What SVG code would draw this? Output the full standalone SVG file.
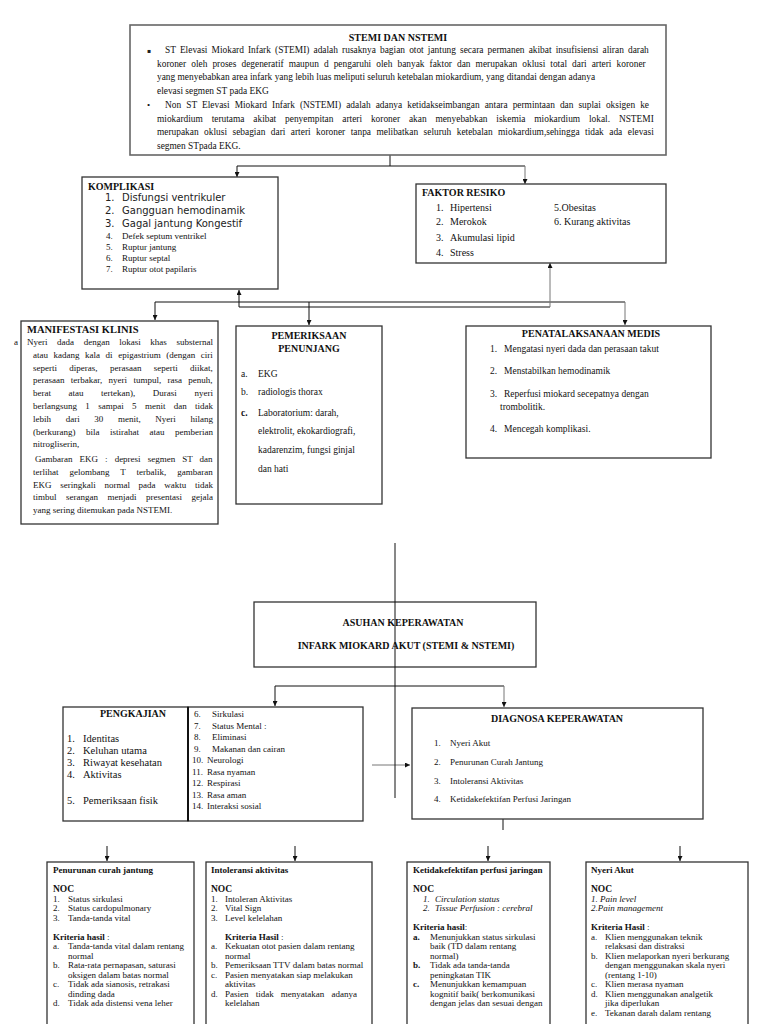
<svg xmlns="http://www.w3.org/2000/svg" width="768" height="1024" viewBox="0 0 768 1024">
<defs>
<marker id="ah" viewBox="0 0 6 6" refX="6" refY="3" markerWidth="5" markerHeight="5" orient="auto"><path d="M0,0 L6,3 L0,6 z" fill="#111"/></marker>
<style>
.box{fill:#fff;stroke:#333;stroke-width:1.3}
.t{font-family:"Liberation Serif","Times New Roman",serif;fill:#111}
.b{font-weight:bold}
.i{font-style:italic}
.s{font-family:"DejaVu Sans",Verdana,sans-serif;fill:#222}
.ln{stroke:#111;stroke-width:1;fill:none}
.lg{stroke:#777;stroke-width:1;fill:none}
.f9{font-size:9px}
.f94{font-size:9.4px}
.f8{font-size:8px}
.f85{font-size:8.5px}
.f10{font-size:10px}
.f105{font-size:10.5px}
.f95{font-size:9.5px}
</style>
</defs>
<rect width="768" height="1024" fill="#fff"/>

<g id="connectors">
<path class="ln" d="M390,155 V166 M237,166 H525"/>
<path class="ln" d="M237,166 V177" marker-end="url(#ah)"/>
<path class="lg" d="M525,166 V184" marker-end="url(#ah)"/>
<path class="ln" d="M155,302 H625"/>
<path class="ln" d="M155,302 V320" marker-end="url(#ah)"/>
<path class="ln" d="M309,302 V325" marker-end="url(#ah)"/>
<path class="lg" d="M625,302 V325" marker-end="url(#ah)"/>
<path class="ln" d="M239,307 H550"/>
<path class="ln" d="M239,307 V290" marker-end="url(#ah)"/>
<path class="lg" d="M550,307 V263" marker-end="url(#ah)"/>
<path class="ln" d="M275,686 H504"/>
<path class="ln" d="M275,686 V706" marker-end="url(#ah)"/>
<path class="lg" d="M504,686 V707" marker-end="url(#ah)"/>
<path class="lg" d="M372,765 H410" marker-end="url(#ah)"/>
<path class="ln" d="M503,819 V830"/>
<path class="ln" d="M107,846 V861" marker-end="url(#ah)"/>
<path class="ln" d="M295,846 V861" marker-end="url(#ah)"/>
<path class="ln" d="M488,846 V861" marker-end="url(#ah)"/>
<path class="ln" d="M680,846 V861" marker-end="url(#ah)"/>
</g>

<g id="stemi">
<rect class="box" x="130" y="25" width="536" height="130" style="stroke:#666;stroke-width:1.6"/>
<text class="t b f10" x="398" y="41" text-anchor="middle">STEMI DAN NSTEMI</text>
<text class="s" x="147" y="53" style="font-size:6px">▪</text>
<text class="t f94" x="165" y="53" word-spacing="1.77">ST Elevasi Miokard Infark (STEMI) adalah rusaknya bagian otot jantung secara permanen akibat insufisiensi aliran darah</text>
<text class="t f94" x="157" y="66.5" word-spacing="2.72">koroner oleh proses degeneratif maupun d pengaruhi oleh banyak faktor dan merupakan oklusi total dari arteri koroner</text>
<text class="t f94" x="157" y="80">yang menyebabkan area infark yang lebih luas meliputi seluruh ketebalan miokardium, yang ditandai dengan adanya</text>
<text class="t f94" x="157" y="93.5">elevasi segmen ST pada EKG</text>
<text class="t f9" x="147" y="108">•</text>
<text class="t f94" x="165" y="108" word-spacing="2.71">Non ST Elevasi Miokard Infark (NSTEMI) adalah adanya ketidakseimbangan antara permintaan dan suplai oksigen ke</text>
<text class="t f94" x="157" y="121.5" word-spacing="6.49">miokardium terutama akibat penyempitan arteri koroner akan menyebabkan iskemia miokardium lokal. NSTEMI</text>
<text class="t f94" x="157" y="135" word-spacing="3.13">merupakan oklusi sebagian dari arteri koroner tanpa melibatkan seluruh ketebalan miokardium,sehingga tidak ada elevasi</text>
<text class="t f94" x="157" y="149">segmen STpada EKG.</text>
</g>

<g id="komplikasi">
<rect class="box" x="82" y="177" width="196" height="112"/>
<text class="t b f10" x="88" y="190">KOMPLIKASI</text>
<text class="s f10" x="105" y="201">1.</text><text class="s f10" x="122" y="201">Disfungsi ventrikuler</text>
<text class="s f10" x="105" y="214">2.</text><text class="s f10" x="122" y="214">Gangguan hemodinamik</text>
<text class="s f10" x="105" y="227">3.</text><text class="s f10" x="122" y="227">Gagal jantung Kongestif</text>
<text class="t f9" x="106" y="239">4.</text><text class="t f9" x="122" y="239">Defek septum ventrikel</text>
<text class="t f9" x="106" y="250">5.</text><text class="t f9" x="122" y="250">Ruptur jantung</text>
<text class="t f9" x="106" y="260.5">6.</text><text class="t f9" x="122" y="260.5">Ruptur septal</text>
<text class="t f9" x="106" y="271.5">7.</text><text class="t f9" x="122" y="271.5">Ruptur otot papilaris</text>
</g>

<g id="faktor">
<rect class="box" x="416" y="184" width="250" height="79"/>
<text class="t b f10" x="422" y="196">FAKTOR RESIKO</text>
<text class="t f10" x="436" y="211">1.</text><text class="t f10" x="450" y="211">Hipertensi</text>
<text class="t f10" x="436" y="225">2.</text><text class="t f10" x="450" y="225">Merokok</text>
<text class="t f10" x="436" y="241">3.</text><text class="t f10" x="450" y="241">Akumulasi lipid</text>
<text class="t f10" x="436" y="256">4.</text><text class="t f10" x="450" y="256">Stress</text>
<text class="t f10" x="554" y="211">5.Obesitas</text>
<text class="t f10" x="554" y="225">6. Kurang aktivitas</text>
</g>

<g id="manifestasi">
<rect class="box" x="21" y="321" width="197" height="203"/>
<text class="t b f105" x="27" y="333">MANIFESTASI KLINIS</text>
<text class="t f9" x="14" y="345">a</text>
<text class="t f9" x="27" y="345" word-spacing="7.35">Nyeri dada dengan lokasi khas substernal</text>
<text class="t f9" x="33" y="357.8" word-spacing="3.3">atau kadang kala di epigastrium (dengan ciri</text>
<text class="t f9" x="33" y="370.6" word-spacing="10.1">seperti diperas, perasaan seperti diikat,</text>
<text class="t f9" x="33" y="383.4" word-spacing="4.1">perasaan terbakar, nyeri tumpul, rasa penuh,</text>
<text class="t f9" x="33" y="396.2" word-spacing="15.3">berat atau tertekan), Durasi nyeri</text>
<text class="t f9" x="33" y="409" word-spacing="6.1">berlangsung 1 sampai 5 menit dan tidak</text>
<text class="t f9" x="33" y="421.8" word-spacing="12.4">lebih dari 30 menit, Nyeri hilang</text>
<text class="t f9" x="33" y="434.6" word-spacing="8.25">(berkurang) bila istirahat atau pemberian</text>
<text class="t f9" x="33" y="447.4">nitrogliserin,</text>
<text class="t f9" x="35" y="462" word-spacing="4.8">Gambaran EKG : depresi segmen ST dan</text>
<text class="t f9" x="33" y="474.8" word-spacing="8.7">terlihat gelombang T terbalik, gambaran</text>
<text class="t f9" x="33" y="487.6" word-spacing="6.45">EKG seringkali normal pada waktu tidak</text>
<text class="t f9" x="33" y="500.4" word-spacing="7.25">timbul serangan menjadi presentasi gejala</text>
<text class="t f9" x="33" y="513.2">yang sering ditemukan pada NSTEMI.</text>
</g>

<g id="pemeriksaan">
<rect class="box" x="236" y="326" width="146" height="178"/>
<text class="t b f10" x="309" y="339" text-anchor="middle">PEMERIKSAAN</text>
<text class="t b f10" x="309" y="352" text-anchor="middle">PENUNJANG</text>
<text class="t f95" x="241" y="377">a.</text><text class="t f95" x="258" y="377">EKG</text>
<text class="t f95" x="241" y="395">b.</text><text class="t f95" x="258" y="395">radiologis thorax</text>
<text class="t b f95" x="241" y="416">c.</text><text class="t f95" x="258" y="416">Laboratorium: darah,</text>
<text class="t f95" x="258" y="434">elektrolit, ekokardiografi,</text>
<text class="t f95" x="258" y="453">kadarenzim, fungsi ginjal</text>
<text class="t f95" x="258" y="472">dan hati</text>
</g>

<g id="penatalaksanaan">
<rect class="box" x="466" y="326" width="245" height="132"/>
<text class="t b f10" x="591" y="337" text-anchor="middle">PENATALAKSANAAN MEDIS</text>
<text class="t f95" x="490" y="352">1.</text><text class="t f95" x="504" y="352">Mengatasi nyeri dada dan perasaan takut</text>
<text class="t f95" x="490" y="374">2.</text><text class="t f95" x="504" y="374">Menstabilkan hemodinamik</text>
<text class="t f95" x="490" y="397">3.</text><text class="t f95" x="504" y="397">Reperfusi miokard secepatnya dengan</text>
<text class="t f95" x="500" y="410">trombolitik.</text>
<text class="t f95" x="490" y="432">4.</text><text class="t f95" x="504" y="432">Mencegah komplikasi.</text>
</g>

<g id="asuhan">
<rect class="box" x="254" y="602" width="282" height="65"/>
<text class="t b f10" x="403" y="626" text-anchor="middle">ASUHAN KEPERAWATAN</text>
<text class="t b f10" x="406" y="649" text-anchor="middle">INFARK MIOKARD AKUT (STEMI &amp; NSTEMI)</text>
</g>
<path class="ln" d="M395,543 V798"/>

<g id="pengkajian">
<rect class="box" x="63" y="707" width="125" height="114"/>
<rect class="box" x="188" y="707" width="175" height="114"/>
<line x1="188" y1="707" x2="188" y2="821" stroke="#111" stroke-width="2"/>
<text class="t b f10" x="133" y="717" text-anchor="middle">PENGKAJIAN</text>
<text class="t f105" x="67" y="742">1.</text><text class="t f105" x="83" y="742">Identitas</text>
<text class="t f105" x="67" y="754">2.</text><text class="t f105" x="83" y="754">Keluhan utama</text>
<text class="t f105" x="67" y="766">3.</text><text class="t f105" x="83" y="766">Riwayat kesehatan</text>
<text class="t f105" x="67" y="778">4.</text><text class="t f105" x="83" y="778">Aktivitas</text>
<text class="t f105" x="67" y="804">5.</text><text class="t f105" x="83" y="804">Pemeriksaan fisik</text>
<text class="t f9" x="194" y="717">6.</text><text class="t f9" x="212" y="717">Sirkulasi</text>
<text class="t f9" x="194" y="728.5">7.</text><text class="t f9" x="212" y="728.5">Status Mental :</text>
<text class="t f9" x="194" y="740">8.</text><text class="t f9" x="212" y="740">Eliminasi</text>
<text class="t f9" x="194" y="751.5">9.</text><text class="t f9" x="212" y="751.5">Makanan dan cairan</text>
<text class="t f9" x="192" y="763">10.</text><text class="t f9" x="207" y="763">Neurologi</text>
<text class="t f9" x="192" y="774.5">11.</text><text class="t f9" x="207" y="774.5">Rasa nyaman</text>
<text class="t f9" x="192" y="786">12.</text><text class="t f9" x="207" y="786">Respirasi</text>
<text class="t f9" x="192" y="797.5">13.</text><text class="t f9" x="207" y="797.5">Rasa aman</text>
<text class="t f9" x="192" y="809">14.</text><text class="t f9" x="207" y="809">Interaksi sosial</text>
</g>

<g id="diagnosa">
<rect class="box" x="412" y="708" width="291" height="111"/>
<text class="t b f10" x="557" y="722" text-anchor="middle">DIAGNOSA KEPERAWATAN</text>
<text class="t f9" x="434" y="746">1.</text><text class="t f9" x="450" y="746">Nyeri Akut</text>
<text class="t f9" x="434" y="765">2.</text><text class="t f9" x="450" y="765">Penurunan Curah Jantung</text>
<text class="t f9" x="434" y="784">3.</text><text class="t f9" x="450" y="784">Intoleransi Aktivitas</text>
<text class="t f9" x="434" y="802">4.</text><text class="t f9" x="450" y="802">Ketidakefektifan Perfusi Jaringan</text>
</g>

<g id="curah-jantung">
<rect class="box" x="47" y="862" width="147" height="170"/>
<text class="t b f9" x="53" y="873">Penurunan curah jantung</text>
<text class="t b f95" x="53" y="892">NOC</text>
<text class="t f9" x="53" y="901.5">1.</text><text class="t f9" x="68" y="901.5">Status sirkulasi</text>
<text class="t f9" x="53" y="911">2.</text><text class="t f9" x="68" y="911">Status cardopulmonary</text>
<text class="t f9" x="53" y="920.5">3.</text><text class="t f9" x="68" y="920.5">Tanda-tanda vital</text>
<text class="t f9" x="53" y="939.5"><tspan class="b">Kriteria hasil</tspan> :</text>
<text class="t f9" x="53" y="949">a.</text><text class="t f9" x="68" y="949">Tanda-tanda vital dalam rentang</text>
<text class="t f9" x="68" y="958.5">normal</text>
<text class="t f9" x="53" y="968">b.</text><text class="t f9" x="68" y="968">Rata-rata pernapasan, saturasi</text>
<text class="t f9" x="68" y="977.5">oksigen dalam batas normal</text>
<text class="t f9" x="53" y="987">c.</text><text class="t f9" x="68" y="987">Tidak ada sianosis, retrakasi</text>
<text class="t f9" x="68" y="996.5">dinding dada</text>
<text class="t f9" x="53" y="1006">d.</text><text class="t f9" x="68" y="1006">Tidak ada distensi vena leher</text>
</g>

<g id="intoleransi">
<rect class="box" x="206" y="862" width="166" height="170"/>
<text class="t b f9" x="211" y="873">Intoleransi aktivitas</text>
<text class="t b f95" x="211" y="892">NOC</text>
<text class="t f9" x="211" y="901.5">1.</text><text class="t f9" x="225" y="901.5">Intoleran Aktivitas</text>
<text class="t f9" x="211" y="911">2.</text><text class="t f9" x="225" y="911">Vital Sign</text>
<text class="t f9" x="211" y="920.5">3.</text><text class="t f9" x="225" y="920.5">Level kelelahan</text>
<text class="t f9" x="225" y="939.5"><tspan class="b">Kriteria Hasil</tspan> :</text>
<text class="t f9" x="211" y="949">a.</text><text class="t f9" x="225" y="949">Kekuatan otot pasien dalam rentang</text>
<text class="t f9" x="225" y="958.5">normal</text>
<text class="t f9" x="211" y="968">b.</text><text class="t f9" x="225" y="968">Pemeriksaan TTV dalam batas normal</text>
<text class="t f9" x="211" y="977.5">c.</text><text class="t f9" x="225" y="977.5">Pasien menyatakan siap melakukan</text>
<text class="t f9" x="225" y="987">aktivitas</text>
<text class="t f9" x="211" y="996.5">d.</text><text class="t f9" x="225" y="996.5" word-spacing="4.9">Pasien tidak menyatakan adanya</text>
<text class="t f9" x="225" y="1006">kelelahan</text>
</g>

<g id="perfusi">
<rect class="box" x="407" y="862" width="143" height="170"/>
<text class="t b f9" x="413" y="873">Ketidakefektifan perfusi jaringan</text>
<text class="t b f95" x="413" y="892">NOC</text>
<text class="t i f9" x="423" y="901.5">1.</text><text class="t i f9" x="435" y="901.5">Circulation  status</text>
<text class="t i f9" x="423" y="911">2.</text><text class="t i f9" x="435" y="911">Tissue Perfusion : cerebral</text>
<text class="t f9" x="413" y="930"><tspan class="b">Kriteria hasil</tspan>:</text>
<text class="t b f9" x="413" y="939.5">a.</text><text class="t f9" x="430" y="939.5">Menunjukkan status sirkulasi</text>
<text class="t f9" x="430" y="949">baik (TD dalam rentang</text>
<text class="t f9" x="430" y="958.5">normal)</text>
<text class="t b f9" x="413" y="968">b.</text><text class="t f9" x="430" y="968">Tidak ada tanda-tanda</text>
<text class="t f9" x="430" y="977.5">peningkatan TIK</text>
<text class="t b f9" x="413" y="987">c.</text><text class="t f9" x="430" y="987">Menunjukkan kemampuan</text>
<text class="t f9" x="430" y="996.5">kognitif baik( berkomunikasi</text>
<text class="t f9" x="430" y="1006">dengan jelas dan sesuai dengan</text>
</g>

<g id="nyeri">
<rect class="box" x="586" y="862" width="162" height="170"/>
<text class="t b f9" x="591" y="873">Nyeri Akut</text>
<text class="t b f95" x="591" y="892">NOC</text>
<text class="t i f9" x="591" y="901.5">1. Pain level</text>
<text class="t i f9" x="591" y="911">2.Pain management</text>
<text class="t f9" x="591" y="930"><tspan class="b">Kriteria Hasil</tspan> :</text>
<text class="t f9" x="591" y="939.5">a.</text><text class="t f9" x="605" y="939.5">Klien menggunakan teknik</text>
<text class="t f9" x="605" y="949">relaksasi dan distraksi</text>
<text class="t f9" x="591" y="958.5">b.</text><text class="t f9" x="605" y="958.5">Klien melaporkan nyeri berkurang</text>
<text class="t f9" x="605" y="968">dengan menggunakan skala nyeri</text>
<text class="t f9" x="605" y="977.5">(rentang 1-10)</text>
<text class="t f9" x="591" y="987">c.</text><text class="t f9" x="605" y="987">Klien merasa nyaman</text>
<text class="t f9" x="591" y="996.5">d.</text><text class="t f9" x="605" y="996.5">Klien menggunakan analgetik</text>
<text class="t f9" x="605" y="1006">jika diperlukan</text>
<text class="t f9" x="591" y="1015.5">e.</text><text class="t f9" x="605" y="1015.5">Tekanan darah dalam rentang</text>
</g>
</svg>
